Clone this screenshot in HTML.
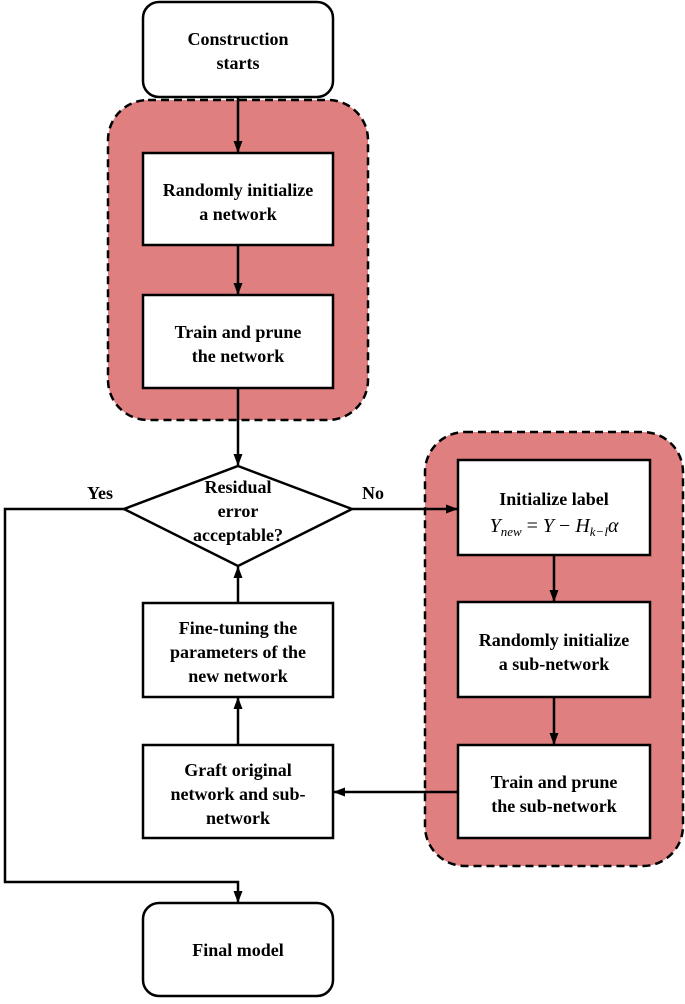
<!DOCTYPE html>
<html><head><style>
body{margin:0;background:#fff}
svg text{font-family:"Liberation Serif",serif;font-weight:bold;font-size:18px;text-anchor:middle}
</style></head><body>
<svg width="685" height="999" viewBox="0 0 685 999" xmlns="http://www.w3.org/2000/svg">
<defs><marker id="a" markerWidth="12" markerHeight="12" refX="11" refY="6" orient="auto" markerUnits="userSpaceOnUse"><path d="M0,1.5 L12,6 L0,10.5 z" fill="#000"/></marker></defs>
<rect x="108" y="100" width="260" height="320" rx="40" fill="#E07F7F" stroke="#000" stroke-width="2.5" stroke-dasharray="8,5"/>
<rect x="425" y="432" width="258" height="434" rx="40" fill="#E07F7F" stroke="#000" stroke-width="2.5" stroke-dasharray="8,5"/>
<g fill="#fff" stroke="#000" stroke-width="2.5">
<rect x="143" y="2" width="190" height="95" rx="16"/>
<rect x="143" y="153" width="190" height="92"/>
<rect x="143" y="295" width="190" height="93"/>
<polygon points="238,466 352,509 238,566 124,509"/>
<rect x="458" y="460" width="192" height="95"/>
<rect x="458" y="602" width="192" height="95"/>
<rect x="458" y="745" width="192" height="93"/>
<rect x="143" y="603" width="190" height="94"/>
<rect x="143" y="745" width="190" height="93"/>
<rect x="143" y="903" width="190" height="93" rx="16"/>
</g>
<g stroke="#000" stroke-width="2.5" fill="none" marker-end="url(#a)">
<line x1="238" y1="97" x2="238" y2="152"/>
<line x1="238" y1="245" x2="238" y2="294"/>
<line x1="238" y1="388" x2="238" y2="465"/>
<line x1="352" y1="509" x2="457" y2="509"/>
<line x1="554" y1="555" x2="554" y2="601"/>
<line x1="554" y1="697" x2="554" y2="744"/>
<line x1="458" y1="792" x2="334" y2="792"/>
<line x1="238" y1="745" x2="238" y2="698"/>
<line x1="238" y1="603" x2="238" y2="567"/>
<polyline points="124,509 5,509 5,882 238,882 238,902"/>
</g>
<text x="238" y="45">Construction</text><text x="238" y="69">starts</text>
<text x="238" y="196">Randomly initialize</text><text x="238" y="220">a network</text>
<text x="238" y="338">Train and prune</text><text x="238" y="362">the network</text>
<text x="238" y="493">Residual</text><text x="238" y="517">error</text><text x="238" y="541">acceptable?</text>
<text x="100" y="499">Yes</text><text x="373" y="499">No</text>
<text x="554" y="505">Initialize label</text>
<text x="554" y="532" style="font-weight:normal;font-style:italic;font-size:20px">Y<tspan font-size="13" dy="4">new</tspan><tspan dy="-4" font-style="normal"> = </tspan>Y<tspan font-style="normal"> − </tspan>H<tspan font-size="13" dy="4">k−l</tspan><tspan dy="-4">α</tspan></text>
<text x="554" y="646">Randomly initialize</text><text x="554" y="670">a sub-network</text>
<text x="554" y="788">Train and prune</text><text x="554" y="812">the sub-network</text>
<text x="238" y="634">Fine-tuning the</text><text x="238" y="658">parameters of the</text><text x="238" y="682">new network</text>
<text x="238" y="776">Graft original</text><text x="238" y="800">network and sub-</text><text x="238" y="824">network</text>
<text x="238" y="956">Final model</text>
</svg>
</body></html>
